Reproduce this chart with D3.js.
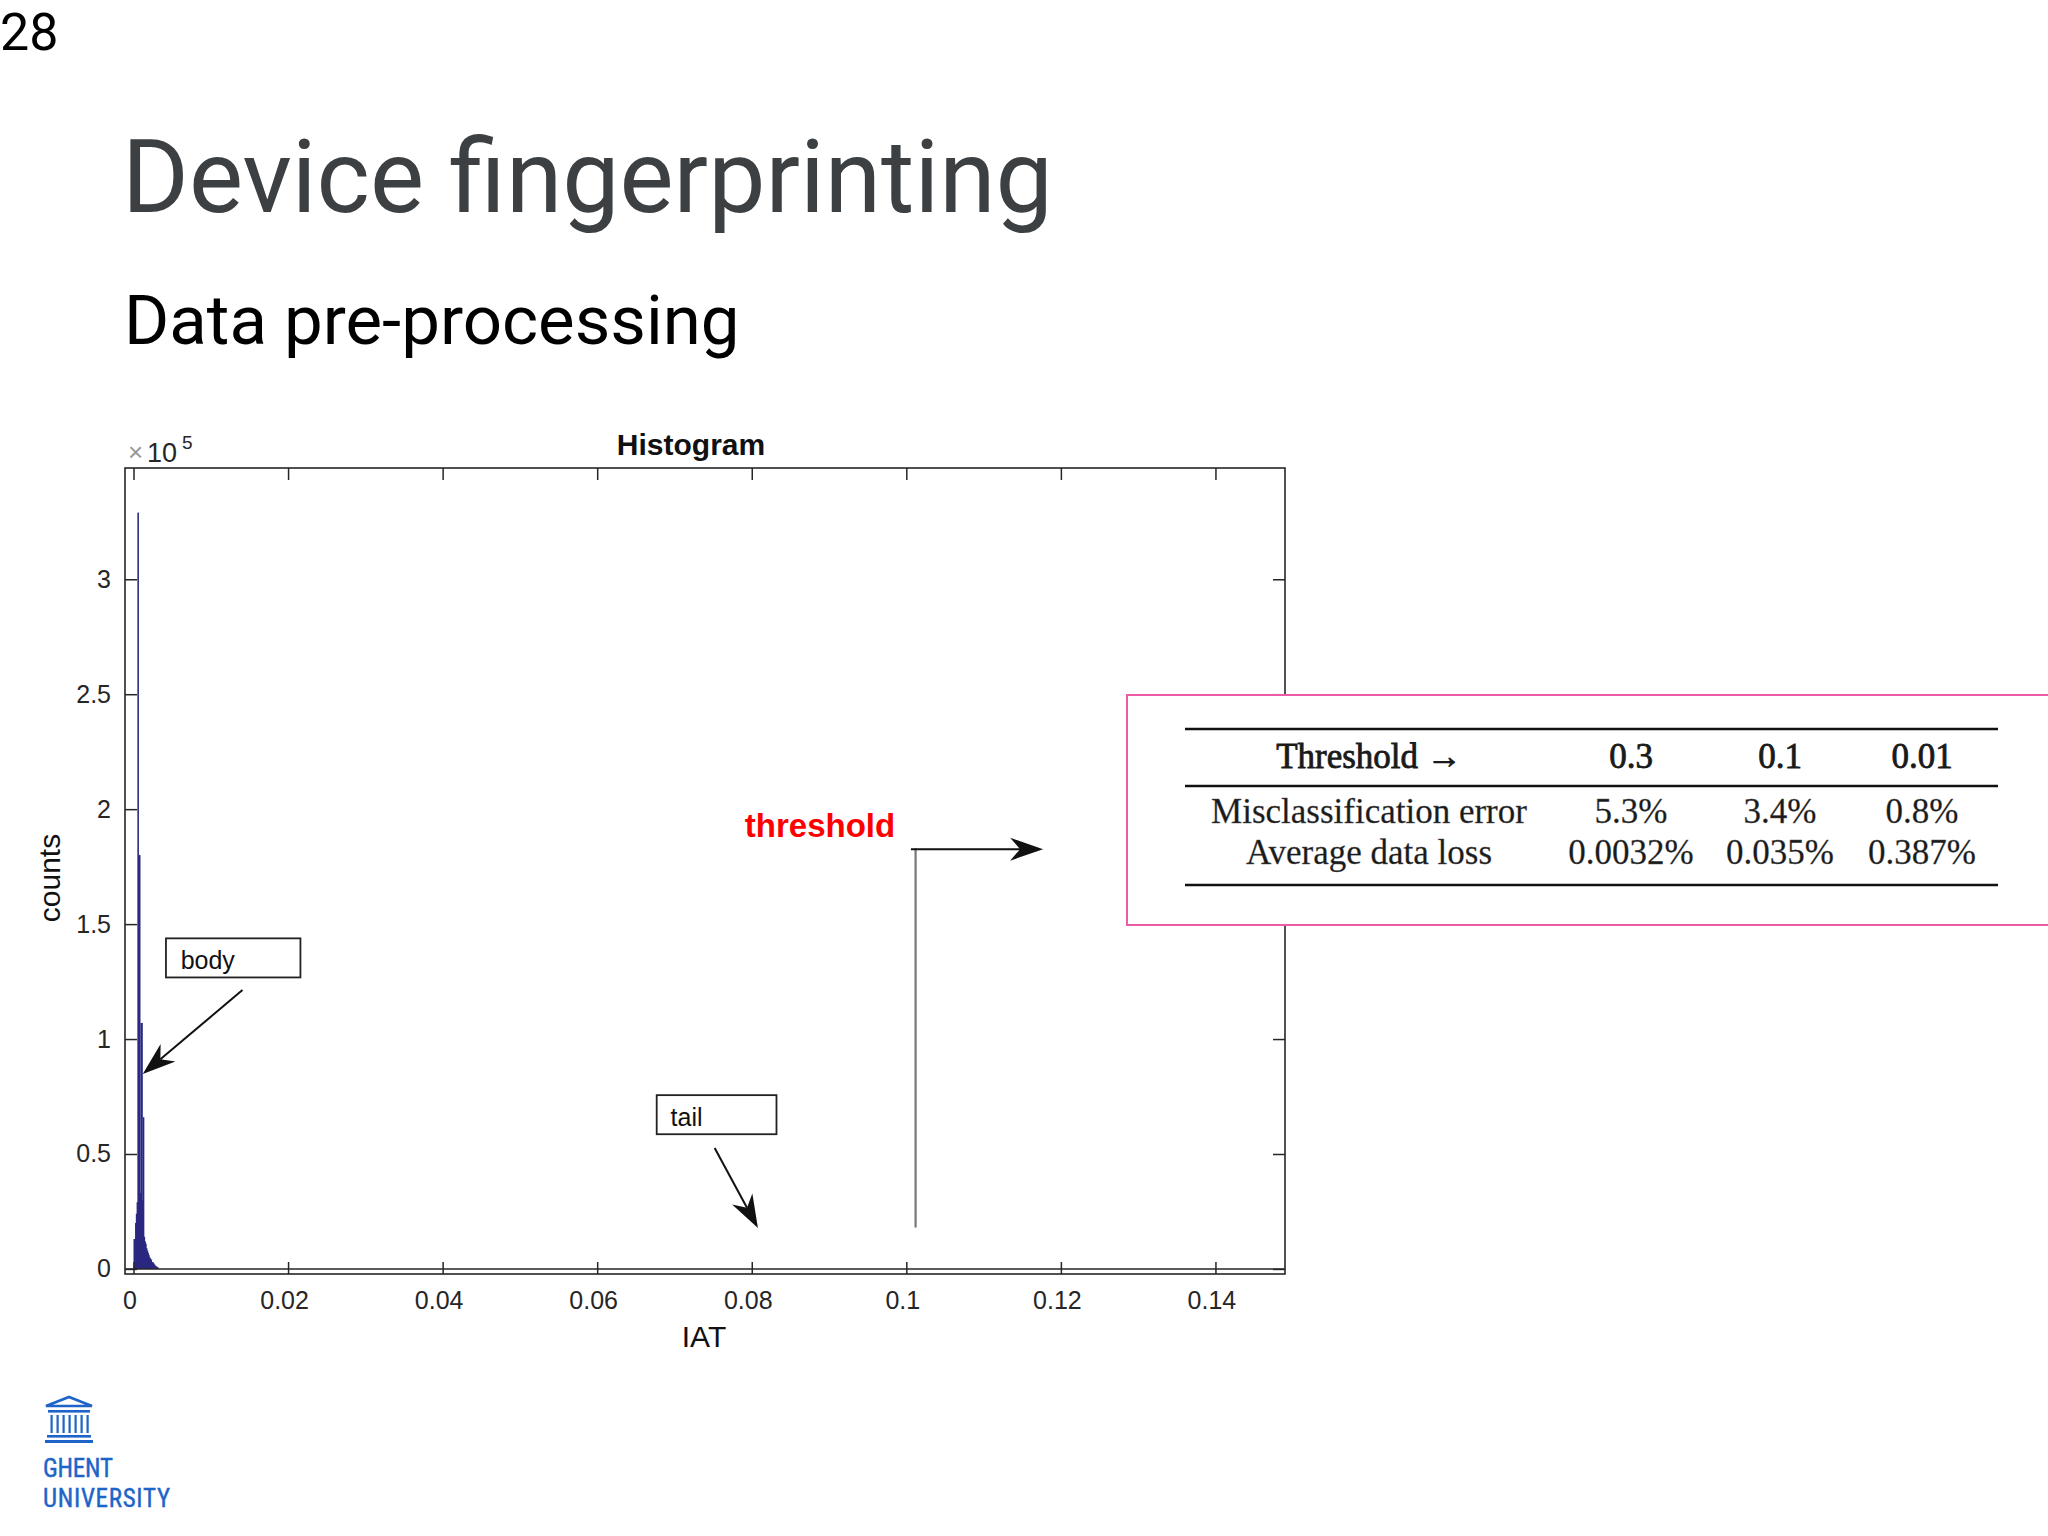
<!DOCTYPE html>
<html>
<head>
<meta charset="utf-8">
<script src="https://cdn.jsdelivr.net/npm/d3@7"></script>
<style>
  body { margin: 0; background: #fff; }
  svg { display: block; }
</style>
</head>
<body>
<svg id="slide" width="2048" height="1536"></svg>
<script>
// histogram of inter-arrival times (counts in units of 10^5)
const binStart = [0.0000, 0.0001, 0.0002, 0.0003, 0.0004, 0.0005, 0.0006, 0.0007,
                  0.0008, 0.0009, 0.0010, 0.0011, 0.0012, 0.0013, 0.0014, 0.0015,
                  0.0016, 0.0017, 0.0018, 0.0019, 0.0020, 0.0021, 0.0022, 0.0023,
                  0.0024, 0.0025, 0.0026, 0.0027, 0.0028, 0.0029, 0.0030, 0.0031];
const binCounts = [0.13, 0.13, 0.20, 0.24, 0.29, 3.29, 1.80, 1.80,
                   0.33, 1.07, 1.07, 0.30, 0.66, 0.14, 0.12, 0.11,
                   0.09, 0.08, 0.07, 0.06, 0.05, 0.045, 0.04, 0.03,
                   0.03, 0.025, 0.02, 0.015, 0.012, 0.01, 0.008, 0.005];
const binWidth = 0.0001;

const xTicks = [0, 0.02, 0.04, 0.06, 0.08, 0.1, 0.12, 0.14];
const xTickLabels = ["0", "0.02", "0.04", "0.06", "0.08", "0.1", "0.12", "0.14"];
const yTicks = [0, 0.5, 1, 1.5, 2, 2.5, 3];
const yTickLabels = ["0", "0.5", "1", "1.5", "2", "2.5", "3"];

// table overlay
const tableHeader = ["Threshold \u2192", "0.3", "0.1", "0.01"];
const misclassError = ["Misclassification error", "5.3%", "3.4%", "0.8%"];
const avgDataLoss = ["Average data loss", "0.0032%", "0.035%", "0.387%"];

const svg = d3.select("#slide");
const sans = "'Liberation Sans', Arial, sans-serif";
const axisInk = "#262626";

// slide text
svg.append("text").attr("x", 0).attr("y", 50)
  .attr("font-family", "Roboto, sans-serif").attr("font-size", 52).attr("fill", "#000")
  .text("28");
svg.append("text").attr("x", 122).attr("y", 212)
  .attr("font-family", "Roboto, sans-serif").attr("font-size", 102).attr("fill", "#3c4043")
  .text("Device fingerprinting");
svg.append("text").attr("x", 124).attr("y", 344)
  .attr("font-family", "Roboto, sans-serif").attr("font-size", 69).attr("fill", "#000")
  .text("Data pre-processing");

// plot area
const pLeft = 125, pRight = 1285, pTop = 468, pBottom = 1274;
const x = d3.scaleLinear().domain([-0.0011, 0.149]).range([pLeft, pRight]);
const y = d3.scaleLinear().domain([-0.022, 3.484]).range([pBottom, pTop]);

const plot = svg.append("g");

plot.append("rect")
  .attr("x", pLeft).attr("y", pTop)
  .attr("width", pRight - pLeft).attr("height", pBottom - pTop)
  .attr("fill", "#fff").attr("stroke", axisInk).attr("stroke-width", 1.6);

// bars
const bins = binStart.map((s, i) => ({x0: s, x1: s + binWidth, n: binCounts[i]}));
plot.selectAll("rect.bar").data(bins).join("rect")
  .attr("class", "bar")
  .attr("x", d => x(d.x0))
  .attr("width", d => x(d.x1) - x(d.x0) + 0.8)
  .attr("y", d => y(d.n))
  .attr("height", d => y(0) - y(d.n))
  .attr("fill", "#2a2880");

// baseline at zero
plot.append("line")
  .attr("x1", pLeft).attr("x2", pRight)
  .attr("y1", y(0)).attr("y2", y(0))
  .attr("stroke", axisInk).attr("stroke-width", 1.4);

// axes, ticks pointing inwards like matlab
function styleAxis(g) {
  g.select(".domain").remove();
  g.selectAll(".tick line").attr("stroke", axisInk).attr("stroke-width", 1.5);
  g.selectAll(".tick text").attr("fill", axisInk).attr("font-family", sans).attr("font-size", 25);
}

plot.append("g").attr("transform", `translate(0,${pBottom})`)
  .call(d3.axisBottom(x).tickValues(xTicks).tickFormat((d, i) => xTickLabels[i])
    .tickSizeInner(-12).tickSizeOuter(0).tickPadding(17))
  .call(styleAxis)
  .call(g => g.selectAll(".tick text").attr("dx", -4));
plot.append("g").attr("transform", `translate(0,${pTop})`)
  .call(d3.axisTop(x).tickValues(xTicks).tickFormat("").tickSizeInner(-12).tickSizeOuter(0))
  .call(styleAxis);
plot.append("g").attr("transform", `translate(${pLeft},0)`)
  .call(d3.axisLeft(y).tickValues(yTicks).tickFormat((d, i) => yTickLabels[i])
    .tickSizeInner(-12).tickSizeOuter(0).tickPadding(14))
  .call(styleAxis);
plot.append("g").attr("transform", `translate(${pRight},0)`)
  .call(d3.axisRight(y).tickValues(yTicks).tickFormat("").tickSizeInner(-12).tickSizeOuter(0))
  .call(styleAxis);

// exponent label
svg.append("text").attr("x", 128).attr("y", 461)
  .attr("font-family", sans).attr("font-size", 26).attr("fill", "#999").text("\u00d7");
svg.append("text").attr("x", 147).attr("y", 462)
  .attr("font-family", sans).attr("font-size", 27).attr("fill", axisInk).text("10");
svg.append("text").attr("x", 182).attr("y", 449)
  .attr("font-family", sans).attr("font-size", 19).attr("fill", axisInk).text("5");

// title and axis labels
svg.append("text").attr("x", 691).attr("y", 455).attr("text-anchor", "middle")
  .attr("font-family", sans).attr("font-weight", "bold").attr("font-size", 30)
  .attr("fill", "#111").text("Histogram");
svg.append("text").attr("x", 704).attr("y", 1347).attr("text-anchor", "middle")
  .attr("font-family", sans).attr("font-size", 30).attr("fill", "#111").text("IAT");
svg.append("text").attr("transform", "translate(60,878) rotate(-90)")
  .attr("text-anchor", "middle")
  .attr("font-family", sans).attr("font-size", 30).attr("fill", "#111").text("counts");

// annotations, positioned in data units
function arrow(x1, y1, x2, y2, color) {
  const px1 = x(x1), py1 = y(y1), px2 = x(x2), py2 = y(y2);
  const a = Math.atan2(py2 - py1, px2 - px1);
  const L = 33, W = 11.5, N = 23;
  const pt = (d, s) => [px2 - d * Math.cos(a) - s * Math.sin(a), py2 - d * Math.sin(a) + s * Math.cos(a)];
  svg.append("line")
    .attr("x1", px1).attr("y1", py1).attr("x2", pt(N, 0)[0]).attr("y2", pt(N, 0)[1])
    .attr("stroke", color).attr("stroke-width", 2);
  svg.append("path")
    .attr("d", "M" + [[px2, py2], pt(L, W), pt(N, 0), pt(L, -W)].map(p => p.join(",")).join("L") + "Z")
    .attr("fill", color);
}

function labelBox(x0, x1, y0, y1, tx, ty, label) {
  svg.append("rect")
    .attr("x", x(x0)).attr("y", y(y0))
    .attr("width", x(x1) - x(x0)).attr("height", y(y1) - y(y0))
    .attr("fill", "#fff").attr("stroke", "#222").attr("stroke-width", 1.8);
  svg.append("text").attr("x", x(tx)).attr("y", y(ty))
    .attr("font-family", sans).attr("font-size", 25).attr("fill", "#111").text(label);
}

labelBox(0.0042, 0.0216, 1.438, 1.268, 0.0061, 1.303, "body");
arrow(0.0141, 1.213, 0.0012, 0.848, "#111");

labelBox(0.0677, 0.0832, 0.756, 0.586, 0.0695, 0.622, "tail");
arrow(0.0752, 0.526, 0.0808, 0.178, "#111");

// threshold marker
svg.append("line")
  .attr("x1", x(0.1012)).attr("x2", x(0.1012))
  .attr("y1", y(1.83)).attr("y2", y(0.18))
  .attr("stroke", "#777").attr("stroke-width", 2.2);
arrow(0.1006, 1.826, 0.1177, 1.826, "#111");
svg.append("text").attr("x", x(0.0791)).attr("y", y(1.879))
  .attr("font-family", sans).attr("font-weight", "bold").attr("font-size", 33)
  .attr("fill", "#ff0000").text("threshold");

// table box on top of the plot
const tbl = svg.append("g");
tbl.append("rect")
  .attr("x", 1127).attr("y", 695).attr("width", 960).attr("height", 230)
  .attr("fill", "#fff").attr("stroke", "#ec5aa8").attr("stroke-width", 2);

const colX = [1369, 1631, 1780, 1922];
const ruleY = [729, 786, 885];
tbl.selectAll("line.rule").data(ruleY).join("line")
  .attr("class", "rule")
  .attr("x1", 1185).attr("x2", 1998)
  .attr("y1", d => d).attr("y2", d => d)
  .attr("stroke", "#111").attr("stroke-width", 2.4);

const serif = "'Liberation Serif', 'Times New Roman', serif";
const rows = [
  {cells: tableHeader, y: 768, bold: true},
  {cells: misclassError, y: 823, bold: false},
  {cells: avgDataLoss, y: 864, bold: false}
];
rows.forEach(r => {
  tbl.selectAll(null).data(r.cells).join("text")
    .attr("x", (d, i) => colX[i]).attr("y", r.y)
    .attr("text-anchor", "middle")
    .attr("font-family", serif).attr("font-size", 35)
    .attr("fill", "#1a1a1a")
    .attr("stroke", r.bold ? "#1a1a1a" : "#555").attr("stroke-width", r.bold ? 0.8 : 0.3)
    .text(d => d);
});

// university logo
const blue = "#1e64c8";
const logo = svg.append("g");
logo.append("path").attr("d", "M46,1406 L69,1397 L92,1406 Z")
  .attr("fill", "none").attr("stroke", blue).attr("stroke-width", 2.6).attr("stroke-linejoin", "miter");
logo.append("rect").attr("x", 48).attr("y", 1410).attr("width", 42).attr("height", 2.6).attr("fill", blue);
d3.range(7).forEach(i => {
  logo.append("rect").attr("x", 50.5 + i * 6).attr("y", 1415).attr("width", 2.2).attr("height", 18).attr("fill", blue);
});
logo.append("rect").attr("x", 47).attr("y", 1435).attr("width", 44).attr("height", 2.6).attr("fill", blue);
logo.append("rect").attr("x", 45).attr("y", 1440).attr("width", 48).attr("height", 3).attr("fill", blue);
logo.append("text").attr("x", 43).attr("y", 1477)
  .attr("font-family", "'Liberation Sans Narrow', 'Roboto Condensed', sans-serif")
  .attr("font-size", 25).attr("fill", blue).attr("stroke", blue).attr("stroke-width", 0.4)
  .attr("textLength", 70).text("GHENT");
logo.append("text").attr("x", 43).attr("y", 1507)
  .attr("font-family", "'Liberation Sans Narrow', 'Roboto Condensed', sans-serif")
  .attr("font-size", 25).attr("fill", blue).attr("stroke", blue).attr("stroke-width", 0.4)
  .attr("textLength", 127).text("UNIVERSITY");
</script>
</body>
</html>
